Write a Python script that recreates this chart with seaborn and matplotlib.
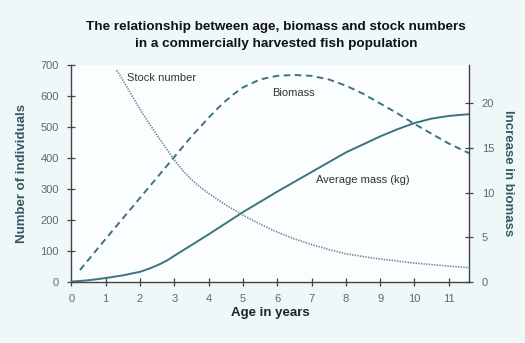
import matplotlib
matplotlib.use("Agg")
import matplotlib.pyplot as plt
import seaborn as sns
import pandas as pd

# Stock number (left axis, number of individuals)
stock_age = [1.32, 1.5, 1.75, 2.0, 2.25, 2.5, 2.75, 3.0, 3.25, 3.5, 3.75, 4.0, 4.5, 5.0, 5.5,
             6.0, 6.5, 7.0, 7.5, 8.0, 8.5, 9.0, 10.0, 11.0, 11.6]
stock_num = [683, 652, 604, 557, 514, 473, 433, 393, 359, 330, 306, 285, 248, 215, 186,
             160, 138, 120, 104, 90, 81, 73, 60, 50, 45]

# Biomass (right axis units)
bio_age = [0.25, 1.0, 2.0, 3.0, 3.5, 4.0, 4.25, 4.5, 4.75, 5.0, 5.5, 6.0, 6.5, 7.0, 7.5,
           8.0, 8.5, 9.0, 9.5, 10.0, 10.5, 11.0, 11.6]
bio_val = [1.3, 4.8, 9.4, 14.0, 16.3, 18.4, 19.4, 20.3, 21.1, 21.8, 22.7, 23.1, 23.2, 23.1, 22.7,
           22.0, 21.1, 20.0, 18.9, 17.7, 16.6, 15.5, 14.4]

# Average mass (right axis units)
mass_age = [0.0, 0.5, 1.0, 1.5, 2.0, 2.3, 2.6, 2.8, 3.0, 3.5, 4.0, 5.0, 6.0, 7.0, 8.0,
            8.5, 9.0, 9.5, 10.0, 10.5, 11.0, 11.6]
mass_val = [0.0, 0.15, 0.4, 0.7, 1.1, 1.5, 2.0, 2.4, 2.9, 4.1, 5.3, 7.8, 10.1, 12.3, 14.5,
            15.4, 16.3, 17.1, 17.8, 18.3, 18.6, 18.8]

x_ticks = list(range(0, 12))
left_ticks = [0, 100, 200, 300, 400, 500, 600, 700]
right_ticks = [0, 5, 10, 15, 20]

title = "The relationship between age, biomass and stock numbers\nin a commercially harvested fish population"

sns.set_style("ticks")
plt.rcParams['font.family'] = ['Liberation Sans', 'DejaVu Sans']

bg = "#eef8f8"
line_c = "#3e7280"
label_c = "#3b5661"
tick_c = "#666666"

fig = plt.figure(figsize=(5.25, 3.43), dpi=100, facecolor=bg)
ax = fig.add_axes([0.136, 0.179, 0.758, 0.631])
ax.set_facecolor("#fbfefe")
ax2 = ax.twinx()

df_stock = pd.DataFrame({"age": stock_age, "n": stock_num})
df_bio = pd.DataFrame({"age": bio_age, "v": bio_val})
df_mass = pd.DataFrame({"age": mass_age, "v": mass_val})

sns.lineplot(data=df_stock, x="age", y="n", ax=ax, color="#6a8287", lw=1.2,
             linestyle=(0, (0.8, 0.8)))
sns.lineplot(data=df_bio, x="age", y="v", ax=ax2, color=line_c, lw=1.4,
             linestyle=(0, (3.4, 2.3)))
sns.lineplot(data=df_mass, x="age", y="v", ax=ax2, color=line_c, lw=1.4)

ax.set_xlim(0, 11.6)
ax.set_ylim(0, 700)
ax2.set_ylim(0, 24.3)

ax.set_xticks(x_ticks)
ax.set_yticks(left_ticks)
ax2.set_yticks(right_ticks)

for a in (ax, ax2):
    a.spines["top"].set_visible(False)
    for s in a.spines.values():
        s.set_color("#444444")
        s.set_linewidth(1.0)
    a.tick_params(direction="inout", length=6, width=0.9, color="#444444",
                  labelsize=8, labelcolor=tick_c, pad=6)
ax.spines["right"].set_visible(False)
ax2.spines["left"].set_visible(False)
ax2.spines["bottom"].set_visible(False)

ax.set_xlabel("Age in years", fontsize=9.5, fontweight="bold", color="#222222", labelpad=2)
ax.set_ylabel("Number of individuals", fontsize=9.5, fontweight="bold", color=label_c, labelpad=9)
ax2.set_ylabel("Increase in biomass", fontsize=9.5, fontweight="bold", color=label_c,
               rotation=-90, labelpad=14)

ax.text(1.62, 660, "Stock number", fontsize=8, color="#333333", va="center", ha="left")
ax.text(6.46, 609, "Biomass", fontsize=8, color="#333333", va="center", ha="center")
ax.text(7.13, 328, "Average mass (kg)", fontsize=8, color="#333333", va="center", ha="left")

fig.text(0.526, 0.897, title, ha="center", va="center", fontsize=9.7, fontweight="bold",
         color="#111111", linespacing=1.6)

fig.savefig("out.png", dpi=100, facecolor=bg)
